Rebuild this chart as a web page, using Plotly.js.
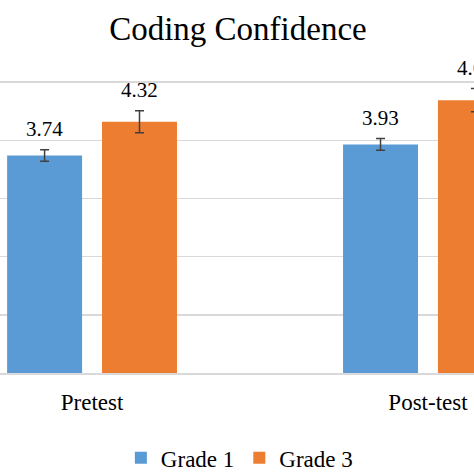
<!DOCTYPE html>
<html>
<head>
<meta charset="utf-8">
<script src="https://cdn.plot.ly/plotly-3.0.1.min.js"></script>
<style>html,body{margin:0;padding:0;background:#fff;}#chart{width:474px;height:474px;}</style>
</head>
<body>
<div id="chart"></div>
<script>
var categories = ["Pretest", "Post-test"];
var seriesNames = ["Grade 1", "Grade 3"];
var grade1Values = [3.74, 3.93];
var grade3Values = [4.32, 4.69];
var grade1Errors = [0.10, 0.10];
var grade3Errors = [0.19, 0.20];
var yTickValues = [0, 1, 2, 3, 4, 5];

var FONT = "Liberation Serif, Times New Roman, serif";
var colors = ["#5B9BD5", "#ED7D31"];
var values = [grade1Values, grade3Values];
var errors = [grade1Errors, grade3Errors];

var traces = seriesNames.map(function (name, i) {
  return {
    type: "bar",
    name: name,
    x: categories,
    y: values[i],
    marker: { color: colors[i] },
    error_y: { type: "data", array: errors[i], visible: true, color: "#404040", thickness: 1.5, width: 4.5 },
    hoverinfo: "none"
  };
});

var annotations = [];
var shifts = [-47.5, 47.5];
seriesNames.forEach(function (name, i) {
  categories.forEach(function (c, j) {
    annotations.push({
      x: c, y: values[i][j] + errors[i][j], xref: "x", yref: "y",
      text: values[i][j].toFixed(2), showarrow: false,
      xshift: shifts[i], yshift: 7, yanchor: "bottom", xanchor: "center",
      font: { family: FONT, size: 21, color: "#000" }
    });
  });
});

var layout = {
  width: 474, height: 474,
  margin: { l: 0, r: 0, t: 24, b: 101 },
  paper_bgcolor: "#fff", plot_bgcolor: "#fff",
  font: { family: FONT, color: "#000" },
  title: { text: "Coding Confidence", font: { family: FONT, size: 33, color: "#000" },
           x: 0.502, xanchor: "center", y: 0.94, yanchor: "middle", yref: "container" },
  barmode: "group", bargap: 0.435, bargroupgap: 0.21,
  xaxis: { type: "category", range: [-0.274, 1.137], showgrid: false, zeroline: false,
           showline: true, linecolor: "#D9D9D9", linewidth: 1.5, ticks: "",
           tickfont: { family: FONT, size: 23, color: "#000" }, ticklabelstandoff: 8 },
  yaxis: { range: [0, 6], tickvals: yTickValues, showticklabels: false, showgrid: true,
           gridcolor: "#D9D9D9", gridwidth: 1.5, zeroline: false, showline: false, ticks: "" },
  showlegend: true,
  legend: { orientation: "h", x: 0.505, xanchor: "center", y: 0.034, yanchor: "middle", yref: "container",
            font: { family: FONT, size: 23, color: "#000" }, traceorder: "normal" },
  annotations: annotations
};

Plotly.newPlot("chart", traces, layout, { displayModeBar: false, staticPlot: true });
</script>
</body>
</html>
